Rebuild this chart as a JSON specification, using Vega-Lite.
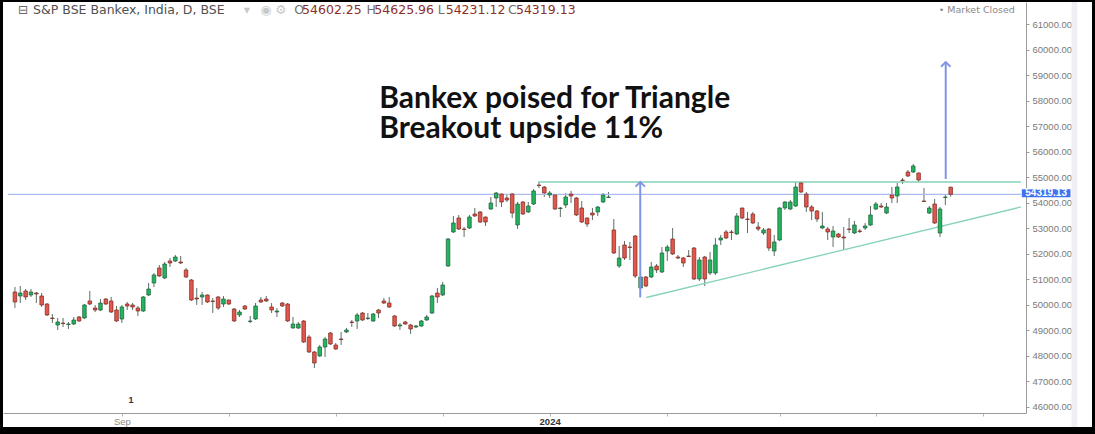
{
  "$schema": "https://vega.github.io/schema/vega-lite/v6.json",
  "width": 1089,
  "height": 425,
  "autosize": {"type": "none"},
  "padding": {"left": 3, "top": 2, "right": 3, "bottom": 7},
  "background": "#000000",
  "config": {
    "view": {"fill": "#ffffff", "stroke": null},
    "axis": {"grid": false},
    "axisRight": {
      "labelFont": "Liberation Sans",
      "labelFontSize": 9.5,
      "labelColor": "#7a7a7a",
      "domainColor": "#9b9b9b",
      "tickColor": "#9b9b9b",
      "tickSize": 3,
      "labelPadding": 3
    }
  },
  "datasets": {
    "candles": [
      {"i":1,"o":50495,"h":50691,"l":49867,"c":50103},{"i":2,"o":50338,"h":50730,"l":50063,"c":50455},
      {"i":3,"o":50534,"h":50612,"l":50181,"c":50299},{"i":4,"o":50377,"h":50612,"l":50299,"c":50495},
      {"i":5,"o":50455,"h":50495,"l":50063,"c":50416},{"i":6,"o":50338,"h":50455,"l":49907,"c":49985},
      {"i":7,"o":50024,"h":50063,"l":49554,"c":49593},{"i":8,"o":49475,"h":49632,"l":49279,"c":49456},
      {"i":9,"o":49201,"h":49475,"l":49005,"c":49319},{"i":10,"o":49279,"h":49475,"l":49123,"c":49260},
      {"i":11,"o":49221,"h":49319,"l":49044,"c":49240},{"i":12,"o":49240,"h":49515,"l":49201,"c":49397},
      {"i":13,"o":49515,"h":49554,"l":49319,"c":49358},{"i":14,"o":49475,"h":50024,"l":49440,"c":49985},
      {"i":15,"o":50142,"h":50534,"l":49985,"c":50024},{"i":16,"o":49867,"h":49985,"l":49711,"c":49789},
      {"i":17,"o":49789,"h":50220,"l":49750,"c":50063},{"i":18,"o":50220,"h":50259,"l":49985,"c":50024},
      {"i":19,"o":50142,"h":50299,"l":49671,"c":49711},{"i":20,"o":49789,"h":49946,"l":49319,"c":49358},
      {"i":21,"o":49436,"h":49985,"l":49279,"c":49907},{"i":22,"o":50024,"h":50103,"l":49789,"c":49946},
      {"i":23,"o":49985,"h":50063,"l":49789,"c":49907},{"i":24,"o":49867,"h":49946,"l":49554,"c":49750},
      {"i":25,"o":49750,"h":50338,"l":49711,"c":50299},{"i":26,"o":50377,"h":50847,"l":50338,"c":50612},
      {"i":27,"o":50847,"h":51239,"l":50691,"c":51161},{"i":28,"o":51435,"h":51553,"l":51083,"c":51122},
      {"i":29,"o":51043,"h":51671,"l":51004,"c":51592},{"i":30,"o":51710,"h":51827,"l":51475,"c":51631},
      {"i":31,"o":51710,"h":51945,"l":51671,"c":51867},{"i":32,"o":51671,"h":51906,"l":51592,"c":51631},
      {"i":33,"o":51357,"h":51435,"l":51043,"c":51083},{"i":34,"o":50965,"h":51004,"l":50142,"c":50181},
      {"i":35,"o":50259,"h":50652,"l":49985,"c":50220},{"i":36,"o":50299,"h":50495,"l":49985,"c":50377},
      {"i":37,"o":50377,"h":50400,"l":50063,"c":50103},{"i":38,"o":50142,"h":50259,"l":49671,"c":50122},
      {"i":39,"o":50299,"h":50338,"l":49789,"c":49867},{"i":40,"o":50024,"h":50338,"l":49907,"c":50220},
      {"i":41,"o":50181,"h":50200,"l":49985,"c":50024},{"i":42,"o":49828,"h":49867,"l":49319,"c":49358},
      {"i":43,"o":49593,"h":49789,"l":49515,"c":49711},{"i":44,"o":49946,"h":49985,"l":49789,"c":49828},
      {"i":45,"o":49338,"h":49554,"l":49279,"c":49358},{"i":46,"o":49436,"h":50063,"l":49397,"c":49946},
      {"i":47,"o":50181,"h":50299,"l":50063,"c":50103},{"i":48,"o":50220,"h":50338,"l":50103,"c":50142},
      {"i":49,"o":49907,"h":50063,"l":49671,"c":49789},{"i":50,"o":49711,"h":49867,"l":49515,"c":49750},
      {"i":51,"o":50063,"h":50103,"l":49907,"c":49946},{"i":52,"o":50024,"h":50063,"l":49319,"c":49358},
      {"i":53,"o":49083,"h":49515,"l":49060,"c":49240},{"i":54,"o":49083,"h":49319,"l":49044,"c":49240},
      {"i":55,"o":49358,"h":49397,"l":48495,"c":48535},{"i":56,"o":48731,"h":48809,"l":48103,"c":48143},
      {"i":57,"o":48143,"h":48182,"l":47515,"c":47711},{"i":58,"o":47986,"h":48417,"l":47947,"c":48339},
      {"i":59,"o":48339,"h":48731,"l":47947,"c":48653},{"i":60,"o":48888,"h":48927,"l":48417,"c":48456},
      {"i":61,"o":48417,"h":48495,"l":48221,"c":48260},{"i":62,"o":48653,"h":48927,"l":48417,"c":48633},
      {"i":63,"o":48927,"h":49083,"l":48888,"c":49005},{"i":64,"o":49319,"h":49397,"l":49123,"c":49299},
      {"i":65,"o":49358,"h":49671,"l":49044,"c":49593},{"i":66,"o":49671,"h":49711,"l":49358,"c":49397},
      {"i":67,"o":49456,"h":49671,"l":49397,"c":49475},{"i":68,"o":49358,"h":49671,"l":49319,"c":49632},
      {"i":69,"o":49789,"h":49828,"l":49475,"c":49671},{"i":70,"o":50142,"h":50259,"l":50024,"c":50063},
      {"i":71,"o":50063,"h":50299,"l":49867,"c":49907},{"i":72,"o":49554,"h":49593,"l":49123,"c":49162},
      {"i":73,"o":49162,"h":49279,"l":49005,"c":49201},{"i":74,"o":49319,"h":49358,"l":49201,"c":49240},
      {"i":75,"o":49201,"h":49240,"l":48849,"c":49044},{"i":76,"o":49123,"h":49201,"l":49083,"c":49162},
      {"i":77,"o":49162,"h":49397,"l":49123,"c":49358},{"i":78,"o":49397,"h":49593,"l":49358,"c":49515},
      {"i":79,"o":49671,"h":50377,"l":49632,"c":50338},{"i":80,"o":50455,"h":50652,"l":50063,"c":50299},
      {"i":81,"o":50377,"h":50887,"l":50338,"c":50769},{"i":82,"o":51514,"h":52611,"l":51475,"c":52572},
      {"i":83,"o":52847,"h":53474,"l":52807,"c":53199},{"i":84,"o":53395,"h":53513,"l":52925,"c":52964},
      {"i":85,"o":52964,"h":53043,"l":52651,"c":52945},{"i":86,"o":53003,"h":53513,"l":52964,"c":53435},
      {"i":87,"o":53552,"h":53787,"l":53435,"c":53474},{"i":88,"o":53631,"h":53670,"l":53199,"c":53239},
      {"i":89,"o":53435,"h":53455,"l":53082,"c":53239},{"i":90,"o":53748,"h":54219,"l":53709,"c":53983},
      {"i":91,"o":54179,"h":54415,"l":53827,"c":54376},{"i":92,"o":54336,"h":54350,"l":53827,"c":54023},
      {"i":93,"o":54179,"h":54336,"l":54023,"c":54101},{"i":94,"o":54336,"h":54376,"l":53395,"c":53591},
      {"i":95,"o":53121,"h":54023,"l":52964,"c":53944},{"i":96,"o":54023,"h":54062,"l":53513,"c":53552},
      {"i":97,"o":53631,"h":54023,"l":53591,"c":53866},{"i":98,"o":53944,"h":54532,"l":53905,"c":54454},
      {"i":99,"o":54689,"h":54807,"l":54571,"c":54669},{"i":100,"o":54611,"h":54650,"l":54219,"c":54376},
      {"i":101,"o":54297,"h":54454,"l":54179,"c":54376},{"i":102,"o":54297,"h":54336,"l":53709,"c":53748},
      {"i":103,"o":53768,"h":53827,"l":53435,"c":53787},{"i":104,"o":53905,"h":54376,"l":53787,"c":54219},
      {"i":105,"o":54336,"h":54454,"l":53983,"c":54258},{"i":106,"o":54179,"h":54219,"l":53474,"c":53513},
      {"i":107,"o":53787,"h":54062,"l":53199,"c":53239},{"i":108,"o":53395,"h":53415,"l":53043,"c":53160},
      {"i":109,"o":53591,"h":53787,"l":53317,"c":53513},{"i":110,"o":53631,"h":53866,"l":53474,"c":53827},
      {"i":111,"o":54023,"h":54376,"l":53983,"c":54297},{"i":112,"o":54199,"h":54415,"l":54179,"c":54219},
      {"i":113,"o":52925,"h":53356,"l":51984,"c":52023},{"i":114,"o":51514,"h":52298,"l":51435,"c":51827},
      {"i":115,"o":52337,"h":52494,"l":51749,"c":51827},{"i":116,"o":52259,"h":52455,"l":51749,"c":52239},
      {"i":117,"o":52690,"h":52729,"l":51043,"c":51122},{"i":118,"o":50652,"h":51475,"l":50612,"c":51083},
      {"i":119,"o":51083,"h":51122,"l":50691,"c":50730},{"i":120,"o":51083,"h":51671,"l":51043,"c":51475},
      {"i":121,"o":51514,"h":51592,"l":51239,"c":51357},{"i":122,"o":51279,"h":52259,"l":51239,"c":52023},
      {"i":123,"o":52102,"h":52337,"l":51710,"c":52259},{"i":124,"o":52572,"h":53003,"l":51945,"c":51984},
      {"i":125,"o":51867,"h":51945,"l":51788,"c":51827},{"i":126,"o":51827,"h":51867,"l":51475,"c":51631},
      {"i":127,"o":51906,"h":52141,"l":51867,"c":51886},{"i":128,"o":52219,"h":52259,"l":50965,"c":51004},
      {"i":129,"o":51004,"h":51867,"l":50926,"c":51749},{"i":130,"o":51867,"h":51906,"l":50730,"c":51004},
      {"i":131,"o":51239,"h":52063,"l":51161,"c":51749},{"i":132,"o":51239,"h":52612,"l":51161,"c":52337},
      {"i":133,"o":52533,"h":52729,"l":52337,"c":52612},{"i":134,"o":52847,"h":52925,"l":52572,"c":52612},
      {"i":135,"o":52847,"h":52925,"l":52533,"c":52827},{"i":136,"o":52768,"h":53591,"l":52729,"c":53474},
      {"i":137,"o":53787,"h":53800,"l":53356,"c":53395},{"i":138,"o":53356,"h":53631,"l":52807,"c":53336},
      {"i":139,"o":53552,"h":53631,"l":53160,"c":53199},{"i":140,"o":53043,"h":53239,"l":52886,"c":52964},
      {"i":141,"o":52807,"h":53003,"l":52729,"c":52925},{"i":142,"o":52964,"h":53003,"l":52102,"c":52219},
      {"i":143,"o":52102,"h":52729,"l":51906,"c":52455},{"i":144,"o":52533,"h":53827,"l":52494,"c":53787},
      {"i":145,"o":53787,"h":54062,"l":53709,"c":54023},{"i":146,"o":53748,"h":54101,"l":53709,"c":54023},
      {"i":147,"o":53866,"h":54807,"l":53827,"c":54611},{"i":148,"o":54768,"h":54807,"l":54376,"c":54415},
      {"i":149,"o":54336,"h":54415,"l":53631,"c":53827},{"i":150,"o":53827,"h":53905,"l":53317,"c":53670},
      {"i":151,"o":53670,"h":53709,"l":53239,"c":53356},{"i":152,"o":53003,"h":53631,"l":52964,"c":53082},
      {"i":153,"o":52964,"h":53043,"l":52533,"c":52847},{"i":154,"o":52651,"h":53082,"l":52259,"c":52886},
      {"i":155,"o":52768,"h":52807,"l":52612,"c":52651},{"i":156,"o":52651,"h":53043,"l":52141,"c":52612},
      {"i":157,"o":52964,"h":53395,"l":52807,"c":52945},{"i":158,"o":52807,"h":53278,"l":52768,"c":53121},
      {"i":159,"o":52886,"h":52964,"l":52807,"c":52866},{"i":160,"o":53003,"h":53199,"l":52925,"c":53082},
      {"i":161,"o":53121,"h":53866,"l":53082,"c":53513},{"i":162,"o":53748,"h":54023,"l":53709,"c":53944},
      {"i":163,"o":53866,"h":53983,"l":53787,"c":53827},{"i":164,"o":53591,"h":53983,"l":53552,"c":53827},
      {"i":165,"o":54297,"h":54611,"l":53983,"c":54179},{"i":166,"o":54258,"h":54768,"l":53983,"c":54611},
      {"i":167,"o":54885,"h":54964,"l":54728,"c":54865},{"i":168,"o":55199,"h":55277,"l":55003,"c":55042},
      {"i":169,"o":55199,"h":55513,"l":55160,"c":55434},{"i":170,"o":55160,"h":55180,"l":54807,"c":54885},
      {"i":171,"o":54062,"h":54571,"l":54023,"c":54042},{"i":172,"o":53591,"h":53866,"l":53552,"c":53787},
      {"i":173,"o":53944,"h":54140,"l":53160,"c":53199},{"i":174,"o":52807,"h":53827,"l":52651,"c":53748},
      {"i":175,"o":54199,"h":54297,"l":53905,"c":54219},{"i":176,"o":54602.25,"h":54625.96,"l":54231.12,"c":54319.13}
    ],
    "lastline": [{"i": -0.2963, "i2": 189.148, "p": 54319.13, "p2": 54319.13}],
    "triangle": [
      {"i": 98.8, "i2": 189.148, "p": 54807, "p2": 54807},
      {"i": 119.06, "i2": 189.148, "p": 50279, "p2": 53827}
    ],
    "arrows": [
      {"i": 117.94, "p": 50279, "p2": 54807},
      {"i": 175.07, "p": 54924, "p2": 59511}
    ],
    "heads": [
      {"i": 117.94, "p": 54807},
      {"i": 175.07, "p": 59511}
    ],
    "strip": [{"i": 198.6, "i2": 199.7, "p": 45203, "p2": 61863}],
    "pricebox": [{"i": 189.3, "i2": 198.4, "p": 54205, "p2": 54525}],
    "pricetext": [{"i": 193.85, "p": 54362, "t": "54319.13"}],
    "header": [
      {"i": 1.56, "p": 61549, "t": "⊟", "part": "icon"},
      {"i": 4.4, "p": 61549, "t": "S&P BSE Bankex, India, D, BSE", "part": "name"},
      {"i": 43.8, "p": 61549, "t": "▾", "part": "dim"},
      {"i": 46.9, "p": 61549, "t": "◉ ⚙", "part": "dim"},
      {"i": 53.22, "p": 61549, "t": "O", "part": "letter"},
      {"i": 54.7, "p": 61549, "t": "54602.25", "part": "num"},
      {"i": 66.74, "p": 61549, "t": "H", "part": "letter"},
      {"i": 68.22, "p": 61549, "t": "54625.96", "part": "num"},
      {"i": 80.07, "p": 61549, "t": "L", "part": "letter"},
      {"i": 81.56, "p": 61549, "t": "54231.12", "part": "num"},
      {"i": 93.22, "p": 61549, "t": "C", "part": "letter"},
      {"i": 94.7, "p": 61549, "t": "54319.13", "part": "num"}
    ],
    "status": [{"i": 188.0, "p": 61549, "t": "• Market Closed"}],
    "note": [
      {"i": 69.15, "p": 57707, "t": "Bankex poised for Triangle\nBreakout upside 11%"}
    ],
    "marker": [{"i": 22.7, "p": 46261, "t": "1"}]
  },
  "encoding": {
    "x": {
      "field": "i",
      "type": "quantitative",
      "scale": {"domain": [-0.2963, 189.148], "range": [0, 1023], "nice": false, "zero": false},
      "axis": {
        "orient": "bottom",
        "offset": -14,
        "title": null,
        "values": [21, 41, 61, 81, 101, 123, 144, 162, 182],
        "labelExpr": "datum.value == 21 ? 'Sep' : datum.value == 101 ? '2024' : ''",
        "labelOverlap": false,
        "labelFlush": false,
        "domainColor": "#9b9b9b",
        "tickColor": "#b5b5b5",
        "tickSize": 3,
        "labelPadding": 0,
        "labelFont": "Liberation Sans",
        "labelFontSize": 9.5,
        "labelColor": {"condition": {"test": "datum.value == 101", "value": "#333333"}, "value": "#8a8a8a"},
        "labelFontWeight": {"condition": {"test": "datum.value == 101", "value": "bold"}, "value": "normal"}
      }
    },
    "y": {
      "field": "p",
      "type": "quantitative",
      "scale": {"domain": [45751, 61863], "range": [411, 0], "nice": false, "zero": false},
      "axis": {
        "orient": "right",
        "offset": -66,
        "title": null,
        "values": [46000, 47000, 48000, 49000, 50000, 51000, 52000, 53000, 54000, 55000, 56000, 57000, 58000, 59000, 60000, 61000],
        "format": ".2f",
        "labelOverlap": false,
        "labelFlush": false
      }
    }
  },
  "layer": [
    {
      "data": {"name": "strip"},
      "mark": {"type": "rect", "color": "#eef0f4"},
      "encoding": {"x2": {"field": "i2"}, "y2": {"field": "p2"}}
    },
    {
      "data": {"name": "candles"},
      "mark": {"type": "rule", "color": "#5e6e66", "strokeWidth": 1},
      "encoding": {
        "y": {
          "field": "l",
          "type": "quantitative",
          "scale": {"domain": [45751, 61863], "range": [411, 0], "nice": false, "zero": false},
          "axis": {
            "orient": "right",
            "offset": -66,
            "title": null,
            "values": [46000, 47000, 48000, 49000, 50000, 51000, 52000, 53000, 54000, 55000, 56000, 57000, 58000, 59000, 60000, 61000],
            "format": ".2f",
            "labelOverlap": false,
            "labelFlush": false
          }
        },
        "y2": {"field": "h"}
      }
    },
    {
      "data": {"name": "lastline"},
      "mark": {"type": "rule", "strokeWidth": 1.2, "color": "#aabcf0"},
      "encoding": {"x2": {"field": "i2"}, "y2": {"field": "p2"}}
    },
    {
      "data": {"name": "triangle"},
      "mark": {"type": "rule", "strokeWidth": 1.3, "color": "#86d2bb"},
      "encoding": {"x2": {"field": "i2"}, "y2": {"field": "p2"}}
    },
    {
      "data": {"name": "candles"},
      "mark": {"type": "bar", "width": 3.6, "strokeWidth": 0.7},
      "encoding": {
        "y": {
          "field": "o",
          "type": "quantitative",
          "scale": {"domain": [45751, 61863], "range": [411, 0], "nice": false, "zero": false},
          "axis": {
            "orient": "right",
            "offset": -66,
            "title": null,
            "values": [46000, 47000, 48000, 49000, 50000, 51000, 52000, 53000, 54000, 55000, 56000, 57000, 58000, 59000, 60000, 61000],
            "format": ".2f",
            "labelOverlap": false,
            "labelFlush": false
          }
        },
        "y2": {"field": "c"},
        "fill": {"condition": {"test": "datum.c >= datum.o", "value": "#22b45e"}, "value": "#e2564b"},
        "stroke": {"condition": {"test": "datum.c >= datum.o", "value": "#1f5a38"}, "value": "#7a2a22"}
      }
    },
    {
      "data": {"name": "arrows"},
      "mark": {"type": "rule", "color": "#7f95e3", "strokeWidth": 2},
      "encoding": {"y2": {"field": "p2"}}
    },
    {
      "data": {"name": "heads"},
      "mark": {"type": "point", "shape": "M-1,1L0,0L1,1", "filled": false, "stroke": "#7f95e3", "strokeWidth": 1.8, "size": 90, "opacity": 1},
      "encoding": {}
    },
    {
      "data": {"name": "pricebox"},
      "mark": {"type": "rect", "color": "#3f72f0"},
      "encoding": {"x2": {"field": "i2"}, "y2": {"field": "p2"}}
    },
    {
      "data": {"name": "pricetext"},
      "mark": {"type": "text", "align": "center", "baseline": "middle", "font": "Liberation Sans", "fontSize": 10, "fontWeight": "bold", "color": "#ffffff"},
      "encoding": {"text": {"field": "t"}}
    },
    {
      "data": {"name": "header"},
      "mark": {"type": "text", "align": "left", "baseline": "middle", "font": "DejaVu Sans", "fontSize": 12.5},
      "encoding": {
        "text": {"field": "t"},
        "color": {"field": "part", "type": "nominal", "scale": {"domain": ["icon", "name", "dim", "letter", "num"], "range": ["#6a6a6a", "#505050", "#c8c8c8", "#707070", "#8c2f28"]}, "legend": null}
      }
    },
    {
      "data": {"name": "status"},
      "mark": {"type": "text", "align": "right", "baseline": "middle", "font": "DejaVu Sans", "fontSize": 9.5, "color": "#8a8a8a"},
      "encoding": {"text": {"field": "t"}}
    },
    {
      "data": {"name": "note"},
      "mark": {"type": "text", "align": "left", "baseline": "alphabetic", "font": "Lato", "fontSize": 30, "fontWeight": "bold", "color": "#111111", "lineBreak": "\n", "lineHeight": 30},
      "encoding": {"text": {"field": "t"}}
    },
    {
      "data": {"name": "marker"},
      "mark": {"type": "text", "align": "center", "baseline": "middle", "font": "Liberation Sans", "fontSize": 9, "fontWeight": "bold", "color": "#333333"},
      "encoding": {"text": {"field": "t"}}
    }
  ]
}
